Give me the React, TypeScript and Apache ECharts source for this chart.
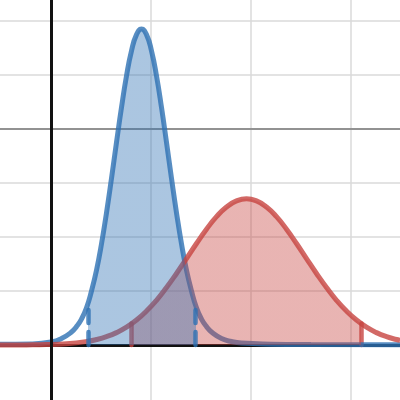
import React, { useEffect, useRef } from "react";
import * as echarts from "echarts";

// Blue (narrow) density curve
const blueX = [-0.51, -0.2, 0.0, 0.105, 0.205, 0.255, 0.305, 0.355, 0.405, 0.455, 0.505, 0.555, 0.605, 0.655, 0.705, 0.755, 0.805, 0.855, 0.905, 0.955, 1.005, 1.055, 1.105, 1.155, 1.205, 1.255, 1.305, 1.355, 1.405, 1.455, 1.505, 1.555, 1.605, 1.705, 1.805, 1.905, 2.2, 2.6, 3.49];
const blueY = [0.003, 0.005, 0.014, 0.03, 0.06, 0.085, 0.12, 0.172, 0.25, 0.346, 0.468, 0.612, 0.771, 0.938, 1.1, 1.246, 1.362, 1.437, 1.463, 1.437, 1.362, 1.246, 1.1, 0.938, 0.771, 0.612, 0.468, 0.346, 0.25, 0.172, 0.12, 0.085, 0.06, 0.03, 0.016, 0.009, 0.004, 0.002, 0.001];

// Red (wide) density curve
const redX = [-0.51, -0.245, -0.045, 0.155, 0.355, 0.455, 0.555, 0.655, 0.755, 0.855, 0.955, 1.055, 1.155, 1.255, 1.355, 1.455, 1.555, 1.655, 1.755, 1.855, 1.955, 2.055, 2.155, 2.255, 2.355, 2.455, 2.555, 2.655, 2.755, 2.855, 2.955, 3.055, 3.155, 3.255, 3.355, 3.455, 3.49];
const redY = [0, 0.0006, 0.002, 0.006, 0.016, 0.0253, 0.0387, 0.0573, 0.0826, 0.1156, 0.157, 0.207, 0.266, 0.331, 0.4, 0.47, 0.536, 0.594, 0.639, 0.667, 0.677, 0.667, 0.639, 0.594, 0.536, 0.47, 0.4, 0.331, 0.266, 0.207, 0.157, 0.1156, 0.0826, 0.0573, 0.0387, 0.0253, 0.022];

// Shaded intervals and the heights of their boundary lines
const blueRange = [0.375, 1.445];
const blueEdgeY = [0.2, 0.19];
const redRange = [0.807, 3.1];
const redEdgeY = [0.1, 0.1];

// Grid lines
const gridX = [1, 2, 3];
const gridY = [0.25, 0.5, 0.75, 1.25, 1.5];
const majorY = [1];

const X_MIN = -0.51;
const X_MAX = 3.49;
const Y_MIN = -0.2546;
const Y_MAX = 1.5972;

const BLUE = "#2d70b3";
const RED = "#c74440";

export default function App() {
  const ref = useRef<HTMLDivElement>(null);
  useEffect(() => {
    if (!ref.current) return;
    const chart = echarts.init(ref.current, undefined, { renderer: "svg" });
    const bluePts = blueX.map((x, i) => [x, blueY[i]]);
    const redPts = redX.map((x, i) => [x, redY[i]]);
    const gridLines: any[] = [
      ...gridX.map((x) => ({ xAxis: x, lineStyle: { color: "#dadada", width: 1.5, type: "solid" } })),
      ...gridY.map((y) => ({ yAxis: y, lineStyle: { color: "#dadada", width: 1.5, type: "solid" } })),
      ...majorY.map((y) => ({ yAxis: y, lineStyle: { color: "#929292", width: 1.8, type: "solid" } })),
    ];
    chart.setOption({
      animation: false,
      grid: { left: 0, right: 0, top: 0, bottom: 0 },
      xAxis: {
        type: "value",
        min: X_MIN,
        max: X_MAX,
        z: 1,
        axisLine: { show: true, onZero: true, lineStyle: { color: "#111", width: 3 } },
        axisTick: { show: false },
        axisLabel: { show: false },
        splitLine: { show: false },
      },
      yAxis: {
        type: "value",
        min: Y_MIN,
        max: Y_MAX,
        z: 10,
        axisLine: { show: true, onZero: true, lineStyle: { color: "#111", width: 3 } },
        axisTick: { show: false },
        axisLabel: { show: false },
        splitLine: { show: false },
      },
      visualMap: [
        {
          type: "piecewise",
          show: false,
          dimension: 0,
          seriesIndex: 3,
          pieces: [{ gte: redRange[0], lte: redRange[1], color: RED }],
          outOfRange: { color: "rgba(0,0,0,0)" },
        },
        {
          type: "piecewise",
          show: false,
          dimension: 0,
          seriesIndex: 4,
          pieces: [{ gte: blueRange[0], lte: blueRange[1], color: BLUE }],
          outOfRange: { color: "rgba(0,0,0,0)" },
        },
      ],
      series: [
        {
          type: "line",
          z: 0,
          data: [[0, 0]],
          symbol: "none",
          lineStyle: { width: 0 },
          silent: true,
          markLine: { z: 0, silent: true, symbol: "none", label: { show: false }, data: gridLines },
        },
        {
          type: "line",
          z: 2,
          data: bluePts,
          smooth: true,
          symbol: "none",
          lineStyle: { color: BLUE, width: 5, opacity: 0.8 },
          itemStyle: { color: BLUE },
        },
        {
          type: "line",
          z: 2,
          data: redPts,
          smooth: true,
          symbol: "none",
          lineStyle: { color: RED, width: 5, opacity: 0.8 },
          itemStyle: { color: RED },
          markLine: {
            z: 2,
            silent: true,
            symbol: "none",
            label: { show: false },
            lineStyle: { color: RED, width: 4.5, type: "solid", opacity: 0.8, cap: "round" },
            data: redRange.map((x, i) => [{ coord: [x, 0] }, { coord: [x, redEdgeY[i]] }]),
          },
        },
        {
          type: "line",
          z: 3,
          data: redPts,
          smooth: true,
          symbol: "none",
          lineStyle: { width: 0 },
          areaStyle: { opacity: 0.4 },
        },
        {
          type: "line",
          z: 3,
          data: bluePts,
          smooth: true,
          symbol: "none",
          lineStyle: { width: 0 },
          areaStyle: { opacity: 0.4 },
        },
        {
          type: "line",
          z: 5,
          data: [[0, 0]],
          symbol: "none",
          lineStyle: { width: 0 },
          silent: true,
          markLine: {
            z: 6,
            silent: true,
            symbol: "none",
            label: { show: false },
            lineStyle: { color: BLUE, width: 4.5, type: [13, 9], opacity: 0.8, cap: "round" },
            data: blueRange.map((x, i) => [{ coord: [x, 0] }, { coord: [x, blueEdgeY[i]] }]),
          },
        },
      ],
    });
    return () => chart.dispose();
  }, []);
  return (
    <div
      ref={ref}
      style={{ position: "fixed", left: 0, top: 0, width: 400, height: 400, background: "#fff" }}
    />
  );
}
